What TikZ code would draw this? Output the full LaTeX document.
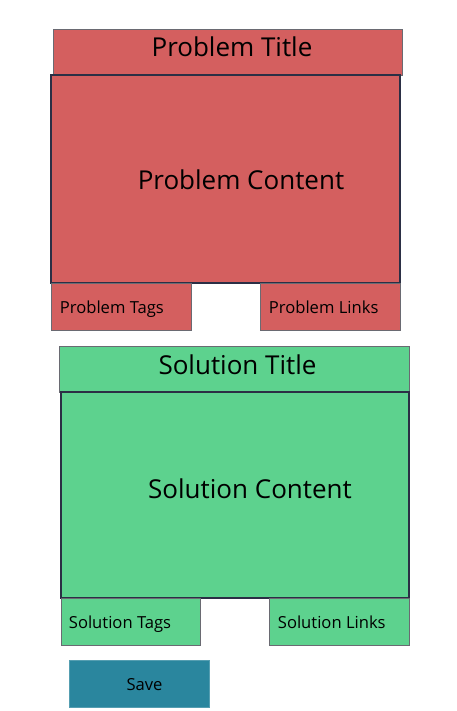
\documentclass[tikz,border=0pt]{standalone}
\usepackage{fontspec}
\setmainfont{Open Sans}
\usepackage{tikz}
\usepackage{xcolor}
\definecolor{probred}{HTML}{D45F5F}
\definecolor{solgreen}{HTML}{5DD28E}
\definecolor{saveteal}{HTML}{2A869E}
\definecolor{edgenavy}{HTML}{2B2F45}
\definecolor{edgegrey}{HTML}{6A6A72}
\tikzset{
	box/.style={shape=rectangle, draw=edgegrey, line width=0.6pt, inner sep=0pt},
	bigbox/.style={shape=rectangle, draw=edgenavy, line width=1.2pt, inner sep=0pt},
	bigtext/.style={font=\fontsize{26}{31}\selectfont, inner sep=0pt},
	smalltext/.style={font=\fontsize{16.6}{20}\selectfont, inner sep=0pt}
}

\begin{document}
\begin{tikzpicture}[x=1pt, y=-1pt]
	\useasboundingbox (0,0) rectangle (457,711);
	% Problem boxes:
	\node[box, fill=probred, minimum width=349pt, minimum height=46pt](N1) at (227.5, 52){} node[bigtext, anchor=base] at (232, 57){Problem Title};
	\node[bigbox, fill=probred, minimum width=349pt, minimum height=208pt](N2) at (225.5, 179){} node[bigtext, anchor=base] at (241, 190){Problem Content};
	\node[box, fill=probred, minimum width=140pt, minimum height=47pt](N3) at (121, 306.5){} node[smalltext, anchor=base west] at ([xshift=9pt, yshift=-6.8pt]N3.west){Problem Tags};
	\node[box, fill=probred, minimum width=140pt, minimum height=47pt](N4) at (330, 306.5){} node[smalltext, anchor=base west] at ([xshift=9pt, yshift=-6.8pt]N4.west){Problem Links};
	% Solution boxes:
	\node[box, fill=solgreen, minimum width=350pt, minimum height=46pt](N5) at (234, 369){} node[bigtext, anchor=base] at (237.5, 374){Solution Title};
	\node[bigbox, fill=solgreen, minimum width=348pt, minimum height=206pt](N6) at (235, 495){} node[bigtext, anchor=base] at (250, 498){Solution Content};
	\node[box, fill=solgreen, minimum width=139pt, minimum height=47pt](N7) at (130.5, 621.5){} node[smalltext, anchor=base west] at ([xshift=8pt, yshift=-7pt]N7.west){Solution Tags};
	\node[box, fill=solgreen, minimum width=140pt, minimum height=47pt](N8) at (339, 621.5){} node[smalltext, anchor=base west] at ([xshift=9pt, yshift=-7pt]N8.west){Solution Links};
	% Save button:
	\node[box, draw=saveteal!80!white, fill=saveteal, minimum width=140pt, minimum height=47pt](N9) at (139, 683.5){} node[smalltext, anchor=base] at (144.5, 690){Save};
\end{tikzpicture}
\end{document}
